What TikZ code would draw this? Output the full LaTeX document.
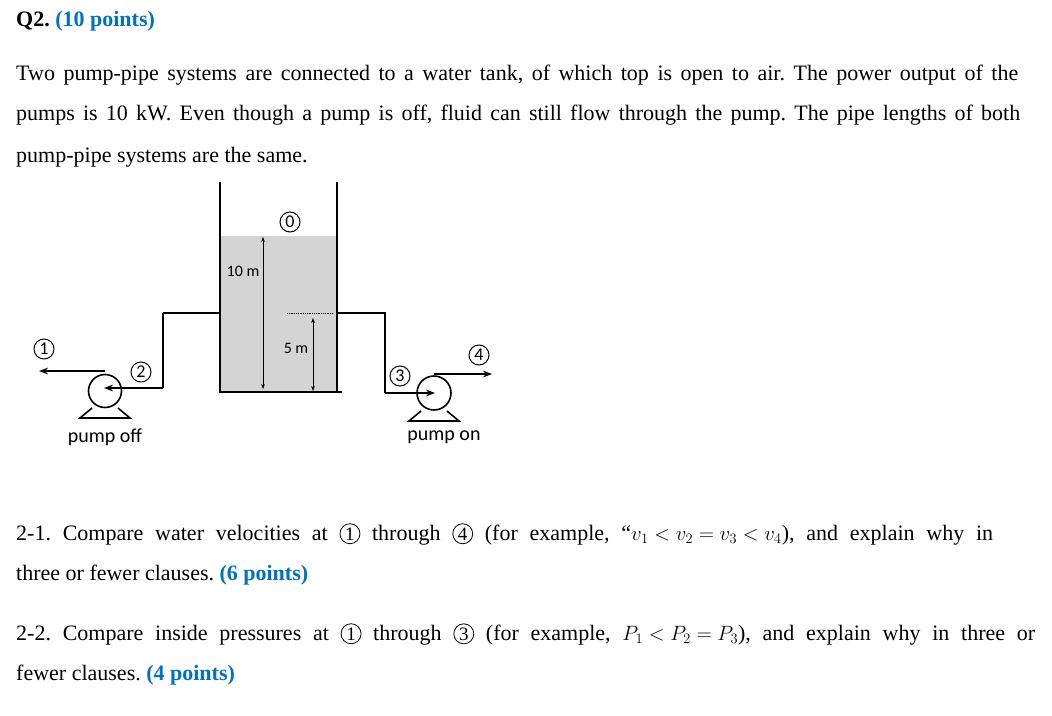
\documentclass[tikz,border=0pt]{standalone}
\usepackage{fontspec}
\setmainfont{Liberation Serif}
\newfontfamily\calfont{Carlito}
\usetikzlibrary{arrows.meta}
\frenchspacing
\definecolor{qblue}{RGB}{0,112,192}
\newcommand{\cn}[1]{\tikz[baseline=(c.base)]\node[circle,draw,inner sep=0pt,minimum size=20pt,line width=0.8pt,font=\fontsize{19}{19}\selectfont](c){#1};}
\tikzset{
 txt/.style={anchor=base west,inner sep=0,font=\fontsize{22}{26}\selectfont},
 pipe/.style={line width=1.6pt},
 dim/.style={line width=0.6pt,{Stealth[length=5pt]}-{Stealth[length=5pt]}},
 flow/.style={line width=1.6pt,-{Stealth[length=9pt]}},
 lbl/.style={circle,draw,line width=1pt,inner sep=0pt,minimum size=20pt,font=\calfont\fontsize{18}{18}\selectfont},
 dlab/.style={font=\calfont\fontsize{16}{16}\selectfont,inner sep=1pt},
 plab/.style={font=\calfont\fontsize{20}{20}\selectfont,inner sep=0}
}
\begin{document}
\begin{tikzpicture}[x=1pt,y=-1pt]
\useasboundingbox (0,0) rectangle (1052,715);
\node[txt] (t0) at (16,26) {\textbf{Q2.} \textcolor{qblue}{\textbf{(10 points)}}};
\node[txt] (t1) at (16,80) {\makebox[1002pt][s]{Two pump-pipe systems are connected to a water tank, of which top is open to air. The power output of the}};
\node[txt] (t2) at (16,120) {\makebox[1004pt][s]{pumps is 10 kW. Even though a pump is off, fluid can still flow through the pump. The pipe lengths of both}};
\node[txt] (t3) at (16,162) {pump-pipe systems are the same.};
% tank
\fill[black!17] (220,236) rectangle (337,392);
\draw[pipe] (163,313) coordinate (lp1) -- (220,313) coordinate (lt);
\draw[pipe] (220,182) -- (220,392) -- (342,392);
\draw[pipe] (337,182) -- (337,392);
\draw[pipe] (337,313) -- (385,313) -- (385,393) coordinate (rp);
\node[lbl] (n0) at (290,222) {0};
\draw[dim] (263,237) -- (263,389);
\node[dlab] (l10) at (243,271) {10 m};
\draw[densely dotted,line width=0.8pt] (287,313) -- (333,313);
\draw[dim] (313,318) -- (313,391);
\node[dlab] (l5) at (296,348) {5 m};
% left pump
\node[circle,draw,line width=1.6pt,minimum size=33pt,inner sep=0] (pl) at (105,391) {};
\draw[pipe] (163,313) -- (163,388) coordinate (lp2);
\draw[flow] (lp2) -- (104,388);
\draw[flow] (105,371) -- (39,371) coordinate (o1);
\draw[pipe] (92,408) -- (80,418) -- (130,418) -- (118,408);
\node[lbl] (n1) at (44,349) {1};
\node[lbl] (n2) at (141,372) {2};
\node[plab] (poff) at (105,437) {pump off};
% right pump
\node[circle,draw,line width=1.6pt,minimum size=34pt,inner sep=0] (pr) at (434,393) {};
\draw[flow] (rp) -- (435,393);
\draw[flow] (434,374) -- (492,374) coordinate (o4);
\draw[pipe] (421,411) -- (409,421) -- (459,421) -- (447,411);
\node[lbl] (n3) at (400,376) {3};
\node[lbl] (n4) at (479,355) {4};
\node[plab] (pon) at (444,437) {pump on};
% questions
\node[txt] (q1) at (16,540) {\makebox[977pt][s]{2-1. Compare water velocities at \cn{1} through \cn{4} (for example, “\mbox{$v_1<v_2=v_3<v_4$}), and explain why in}};
\node[txt] (q1b) at (16,580) {three or fewer clauses. \textcolor{qblue}{\textbf{(6 points)}}};
\node[txt] (q2) at (16,640) {\makebox[1019pt][s]{2-2. Compare inside pressures at \cn{1} through \cn{3} (for example, \mbox{$P_1<P_2=P_3$}), and explain why in three or}};
\node[txt] (q2b) at (16,680) {fewer clauses. \textcolor{qblue}{\textbf{(4 points)}}};
\end{tikzpicture}
\end{document}
